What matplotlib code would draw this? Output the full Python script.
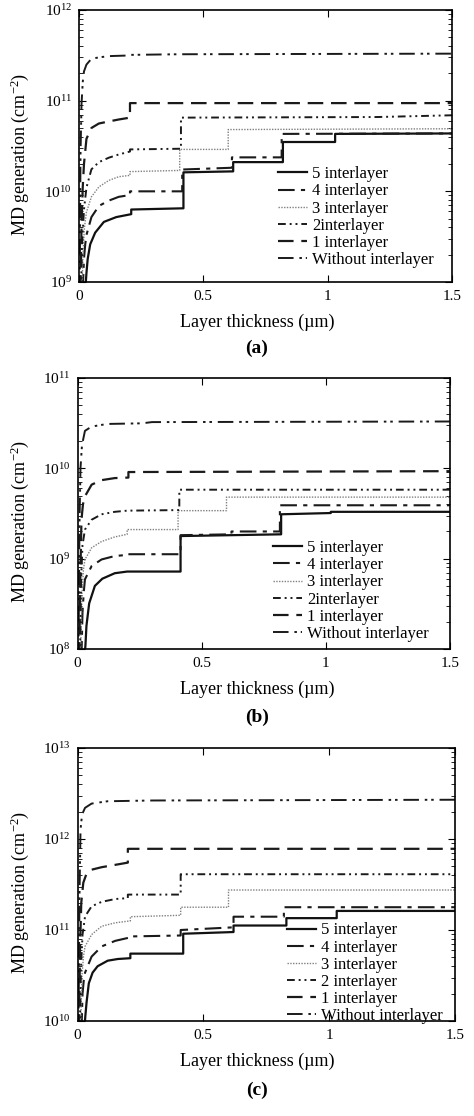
import matplotlib
matplotlib.use('Agg')
import matplotlib.pyplot as plt

plt.rcParams['font.family'] = ['Liberation Serif', 'DejaVu Serif']
plt.rcParams['mathtext.fontset'] = 'custom'
plt.rcParams['mathtext.rm'] = 'Liberation Serif'
plt.rcParams['mathtext.it'] = 'Liberation Serif:italic'
plt.rcParams['mathtext.bf'] = 'Liberation Serif:bold'

# ---------------- panel (a) ----------------
a5_x = [0.025, 0.03, 0.035, 0.045, 0.065, 0.1, 0.15, 0.21, 0.21, 0.42, 0.42, 0.62, 0.62, 0.82, 0.82, 1.03, 1.03, 1.5]
a5_y = [8e8, 1.26e9, 1.8e9, 2.6e9, 3.5e9, 4.6e9, 5.2e9, 5.6e9, 6.3e9, 6.5e9, 1.62e10, 1.66e10, 2.1e10, 2.1e10,
        3.5e10, 3.5e10, 4.3e10, 4.35e10]
a4_x = [0.015, 0.02, 0.025, 0.03, 0.05, 0.08, 0.12, 0.16, 0.205, 0.205, 0.415, 0.415, 0.615, 0.615, 0.815, 0.815, 1.5]
a4_y = [8e8, 1.8e9, 2.6e9, 3.3e9, 5.2e9, 6.9e9, 7.9e9, 8.7e9, 9.1e9, 1e10, 1e10, 1.74e10, 1.82e10, 2.37e10, 2.37e10,
        4.3e10, 4.35e10]
a3_x = [0.012, 0.016, 0.022, 0.03, 0.05, 0.08, 0.12, 0.16, 0.205, 0.205, 0.405, 0.405, 0.6, 0.6, 1.5]
a3_y = [8e8, 2e9, 4e9, 5.9e9, 8.7e9, 1.12e10, 1.32e10, 1.45e10, 1.5e10, 1.65e10, 1.7e10, 2.9e10, 2.9e10, 4.8e10, 4.9e10]
a2_x = [0.008, 0.012, 0.02, 0.03, 0.05, 0.08, 0.12, 0.16, 0.205, 0.205, 0.41, 0.41, 1.2, 1.5]
a2_y = [8e8, 2.5e9, 6.3e9, 1.1e10, 1.75e10, 2.1e10, 2.35e10, 2.55e10, 2.75e10, 2.9e10, 2.95e10, 6.5e10, 6.6e10, 6.9e10]
a1_x = [0.006, 0.01, 0.015, 0.02, 0.03, 0.05, 0.08, 0.12, 0.16, 0.205, 0.205, 1.5]
a1_y = [8e8, 4e9, 1.1e10, 2e10, 3.8e10, 5e10, 5.6e10, 5.9e10, 6.2e10, 6.5e10, 9.4e10, 9.4e10]
a0_x = [0.003, 0.006, 0.01, 0.015, 0.02, 0.03, 0.05, 0.08, 0.12, 0.2, 0.21, 0.4, 1.5]
a0_y = [8e8, 2.5e10, 9e10, 1.6e11, 2.1e11, 2.5e11, 2.9e11, 3.0e11, 3.1e11, 3.15e11, 3.2e11, 3.25e11, 3.3e11]

# ---------------- panel (b) ----------------
b5_x = [0.028, 0.032, 0.036, 0.047, 0.07, 0.1, 0.15, 0.2, 0.415, 0.415, 0.82, 0.82, 1.02, 1.02, 1.5]
b5_y = [8e7, 1.1e8, 1.8e8, 3.2e8, 5e8, 6e8, 6.9e8, 7.2e8, 7.2e8, 1.78e9, 1.86e9, 3.1e9, 3.2e9, 3.3e9, 3.3e9]
b4_x = [0.016, 0.02, 0.025, 0.03, 0.057, 0.097, 0.15, 0.2, 0.2, 0.415, 0.415, 0.62, 0.62, 0.815, 0.815, 1.5]
b4_y = [8e7, 2.5e8, 4.2e8, 5.9e8, 8.3e8, 9.8e8, 1.07e9, 1.1e9, 1.12e9, 1.12e9, 1.82e9, 1.86e9, 2e9, 2e9,
        3.9e9, 3.9e9]
b3_x = [0.012, 0.018, 0.024, 0.03, 0.057, 0.097, 0.15, 0.2, 0.2, 0.405, 0.405, 0.6, 0.6, 1.5]
b3_y = [8e7, 4e8, 7.6e8, 9.8e8, 1.32e9, 1.55e9, 1.74e9, 1.86e9, 2.1e9, 2.1e9, 3.4e9, 3.4e9, 4.8e9, 4.8e9]
b2_x = [0.01, 0.015, 0.02, 0.03, 0.057, 0.097, 0.15, 0.2, 0.41, 0.41, 1.5]
b2_y = [8e7, 6.3e8, 1.4e9, 2.1e9, 2.7e9, 3.1e9, 3.3e9, 3.4e9, 3.45e9, 5.8e9, 5.8e9]
b1_x = [0.007, 0.012, 0.016, 0.022, 0.03, 0.057, 0.097, 0.15, 0.205, 0.205, 1.5]
b1_y = [8e7, 8e8, 2.7e9, 4e9, 4.9e9, 6.6e9, 7.4e9, 7.8e9, 7.9e9, 9.1e9, 9.3e9]
b0_x = [0.004, 0.008, 0.012, 0.018, 0.03, 0.057, 0.12, 0.26, 0.3, 1.5]
b0_y = [8e7, 2.5e9, 1e10, 1.8e10, 2.6e10, 2.9e10, 3.1e10, 3.15e10, 3.25e10, 3.3e10]

# ---------------- panel (c) ----------------
c5_x = [0.027, 0.031, 0.036, 0.045, 0.06, 0.08, 0.12, 0.16, 0.21, 0.21, 0.42, 0.42, 0.62, 0.62, 0.83, 0.83,
        1.03, 1.03, 1.5]
c5_y = [8e9, 1.12e10, 1.6e10, 2.6e10, 3.4e10, 4e10, 4.6e10, 4.8e10, 4.9e10, 5.5e10, 5.5e10, 9.1e10, 9.5e10,
        1.12e11, 1.12e11, 1.35e11, 1.35e11, 1.62e11, 1.62e11]
c4_x = [0.016, 0.02, 0.025, 0.03, 0.056, 0.096, 0.15, 0.21, 0.21, 0.41, 0.41, 0.62, 0.62, 0.82, 0.82, 1.5]
c4_y = [8e9, 2e10, 2.8e10, 3.4e10, 5.1e10, 6.6e10, 7.6e10, 8.3e10, 8.5e10, 8.7e10, 1e11, 1.07e11, 1.4e11, 1.4e11,
        1.78e11, 1.78e11]
c3_x = [0.012, 0.018, 0.024, 0.03, 0.056, 0.096, 0.15, 0.21, 0.21, 0.41, 0.41, 0.6, 0.6, 1.5]
c3_y = [8e9, 3.2e10, 5.2e10, 6.6e10, 8.9e10, 1.1e11, 1.2e11, 1.26e11, 1.4e11, 1.45e11, 1.78e11, 1.78e11,
        2.75e11, 2.75e11]
c2_x = [0.009, 0.014, 0.02, 0.03, 0.056, 0.096, 0.15, 0.2, 0.2, 0.41, 0.41, 1.5]
c2_y = [8e9, 4e10, 8.9e10, 1.41e11, 1.82e11, 2.04e11, 2.19e11, 2.24e11, 2.45e11, 2.45e11, 4.1e11, 4.1e11]
c1_x = [0.006, 0.01, 0.015, 0.023, 0.035, 0.056, 0.096, 0.15, 0.2, 0.2, 1.5]
c1_y = [8e9, 6.3e10, 2e11, 3.3e11, 4.1e11, 4.6e11, 4.9e11, 5.2e11, 5.5e11, 7.8e11, 7.8e11]
c0_x = [0.004, 0.008, 0.012, 0.018, 0.03, 0.056, 0.12, 0.3, 1.5]
c0_y = [8e9, 2.5e11, 1.26e12, 1.86e12, 2.2e12, 2.45e12, 2.6e12, 2.65e12, 2.7e12]

labels_ab = ['5 interlayer', '4 interlayer', '3 interlayer', '2interlayer', '1 interlayer', 'Without interlayer']
labels_c = ['5 interlayer', '4 interlayer', '3 interlayer', '2 interlayer', '1 interlayer', 'Without interlayer']
xticks = [0, 0.5, 1, 1.5]
xticklabels = ['0', '0.5', '1', '1.5']

# line styles: 5, 4, 3, 2, 1, without
styles = [
    dict(ls='-', color='#111111', lw=1.6),
    dict(ls=(0, (8, 3, 2, 3)), color='#1a1a1a', lw=1.5),
    dict(ls=(0, (1, 1)), color='#808080', lw=1.0),
    dict(ls=(0, (4, 2, 1, 2, 1, 2)), color='#1a1a1a', lw=1.4),
    dict(ls=(0, (7, 3.5)), color='#1a1a1a', lw=1.6),
    dict(ls=(0, (8, 3, 1.3, 2, 1.3, 3)), color='#1a1a1a', lw=1.4),
]

W, H = 474, 1116
fig = plt.figure(figsize=(W / 100, H / 100), dpi=100)

panels = [
    # (left, right, top, bottom) in px, ylim, curves, labels, legend anchor, tag, tag y
    ((79, 452, 10, 282), (1e9, 1e12),
     [(a5_x, a5_y), (a4_x, a4_y), (a3_x, a3_y), (a2_x, a2_y), (a1_x, a1_y), (a0_x, a0_y)],
     labels_ab, (0.534, 0.051), '(a)', 348),
    ((77.5, 450, 378, 649), (1e8, 1e11),
     [(b5_x, b5_y), (b4_x, b4_y), (b3_x, b3_y), (b2_x, b2_y), (b1_x, b1_y), (b0_x, b0_y)],
     labels_ab, (0.525, 0.026), '(b)', 717),
    ((77.5, 455, 748, 1021), (1e10, 1e13),
     [(c5_x, c5_y), (c4_x, c4_y), (c3_x, c3_y), (c2_x, c2_y), (c1_x, c1_y), (c0_x, c0_y)],
     labels_c, (0.555, -0.012), '(c)', 1090),
]

for (l, r, t, b), ylim, curves, labels, anchor, tag, tag_y in panels:
    ax = fig.add_axes([l / W, 1 - b / H, (r - l) / W, (b - t) / H])
    for (x, y), st, lab in zip(curves, styles, labels):
        ax.plot(x, y, label=lab, **st)
    ax.set_yscale('log')
    ax.set_xlim(0, 1.5)
    ax.set_ylim(*ylim)
    ax.set_xticks(xticks)
    ax.set_xticklabels(xticklabels)
    ax.tick_params(which='both', direction='in', top=True, right=True, labelsize=11)
    ax.tick_params(which='major', length=5, width=0.8)
    ax.tick_params(which='minor', length=3, width=0.6)
    ax.tick_params(axis='y', pad=5)
    ax.tick_params(axis='x', pad=6)
    for sp in ax.spines.values():
        sp.set_linewidth(1.2)

    ax.set_xlabel('Layer thickness (\u00b5m)', fontsize=13, va='center')
    ax.xaxis.set_label_coords((257 - l) / (r - l), -40 / (b - t))
    ax.set_ylabel('MD generation (cm$^{-2}$)', fontsize=13, va='center')
    ax.yaxis.set_label_coords(-(l - 20) / (r - l), 0.47)

    ax.legend(loc='lower left', bbox_to_anchor=anchor, frameon=False, fontsize=12,
              borderpad=0, borderaxespad=0, handlelength=1.75, handletextpad=0.3,
              labelspacing=0.07)

    fig.text(257 / W, 1 - tag_y / H, tag, fontsize=14, fontweight='bold',
             ha='center', va='center')

fig.savefig('out.png', dpi=100)
